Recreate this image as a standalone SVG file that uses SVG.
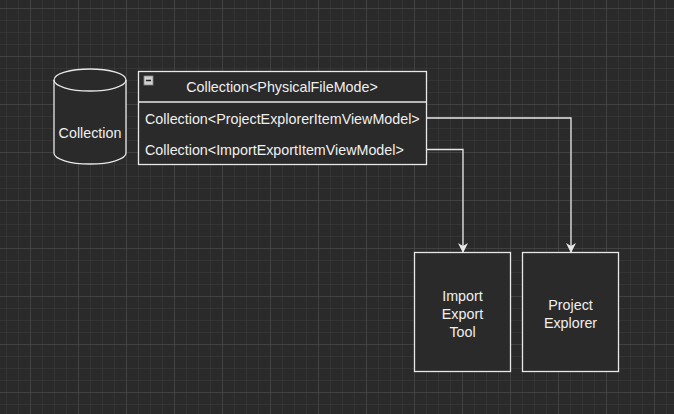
<svg xmlns="http://www.w3.org/2000/svg" width="674" height="414" viewBox="0 0 674 414">
<defs>
<pattern id="minor" width="12" height="12" patternUnits="userSpaceOnUse" x="6" y="8"><path d="M0 0H12M0 0V12" fill="none" stroke="#3d3d3d" stroke-width="1"/></pattern>
<pattern id="major" width="48" height="48" patternUnits="userSpaceOnUse" x="30" y="8"><path d="M0 0H48M0 0V48" fill="none" stroke="#4e4e4e" stroke-width="1"/></pattern>
<marker id="arr" viewBox="0 0 10 10" refX="9" refY="5" markerWidth="10" markerHeight="10" markerUnits="userSpaceOnUse" orient="auto"><path d="M0 0L10 5L0 10L3 5Z" fill="#e8e8e8"/></marker>
<style>
.s{fill:#2a2a2a;stroke:#e8e8e8;stroke-width:1.3}
.t{font-family:"Liberation Sans",Arial,sans-serif;font-size:14.3px;fill:#f0f0f0}
.c{fill:none;stroke:#e8e8e8;stroke-width:1.3}
</style>
</defs>
<rect width="674" height="414" fill="#2a2a2a"/>
<rect width="674" height="414" fill="url(#minor)"/>
<rect width="674" height="414" fill="url(#major)"/>
<g id="cylinder">
<path class="s" d="M54 80A36 11 0 0 1 126 80V153A36 11 0 0 1 54 153Z"/>
<path class="c" d="M54 80A36 11 0 0 0 126 80"/>
<text class="t" x="90" y="138" text-anchor="middle">Collection</text>
</g>
<g id="table">
<rect class="s" x="138.5" y="71.5" width="288" height="93"/>
<line class="c" x1="138.5" y1="102" x2="426.5" y2="102"/>
<rect x="144" y="76" width="9" height="9" fill="#d0d0d0" stroke="#888" stroke-width="0.8"/>
<line x1="146" y1="80.5" x2="151" y2="80.5" stroke="#222" stroke-width="1.5"/>
<text class="t" x="282" y="92" text-anchor="middle">Collection&lt;PhysicalFileMode&gt;</text>
<text class="t" x="145" y="124">Collection&lt;ProjectExplorerItemViewModel&gt;</text>
<text class="t" x="145" y="155">Collection&lt;ImportExportItemViewModel&gt;</text>
</g>
<g id="connectors">
<path class="c" d="M427 118H571V252" marker-end="url(#arr)"/>
<path class="c" d="M427 149.5H463V252" marker-end="url(#arr)"/>
</g>
<g id="import">
<rect class="s" x="414.5" y="252.5" width="96" height="119"/>
<text class="t" text-anchor="middle"><tspan x="462.5" y="301">Import</tspan><tspan x="462.5" y="319">Export</tspan><tspan x="462.5" y="337">Tool</tspan></text>
</g>
<g id="project">
<rect class="s" x="522.5" y="252.5" width="96" height="119"/>
<text class="t" text-anchor="middle"><tspan x="570.5" y="310">Project</tspan><tspan x="570.5" y="328">Explorer</tspan></text>
</g>
</svg>
